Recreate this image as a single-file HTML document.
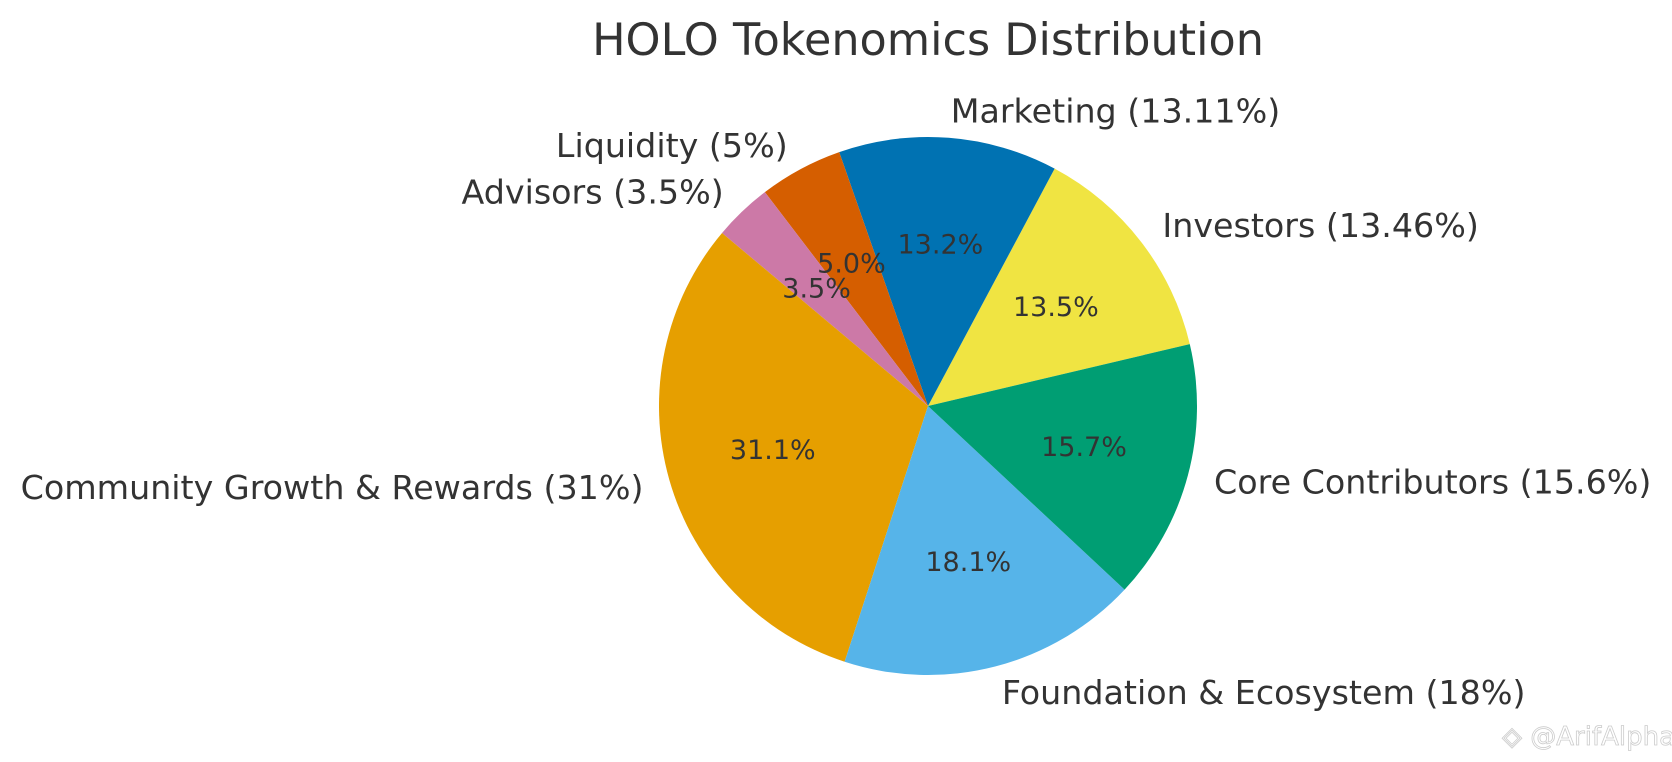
<!DOCTYPE html>
<html><head><meta charset="utf-8"><style>
html,body{margin:0;padding:0;background:#fff;}
svg{display:block;font-family:"DejaVu Sans","Liberation Sans",sans-serif;}
</style></head><body>
<svg id="chart" width="1672" height="762" viewBox="0 0 1672 762" xmlns="http://www.w3.org/2000/svg">
<text x="928" y="55" text-anchor="middle" font-size="44.5" fill="#333">HOLO Tokenomics Distribution</text>
<g id="slices"></g>
<g id="labels"></g>
<text x="1502" y="745" font-size="26" fill="#fff" stroke="#ccc" stroke-width="0.8">◈ @ArifAlpha</text>
</svg>
<script>
const categories = ["Investors","Marketing","Liquidity","Advisors","Community Growth & Rewards","Foundation & Ecosystem","Core Contributors"];
const labelValues = ["13.46","13.11","5","3.5","31","18","15.6"];
const values = [13.46,13.11,5,3.5,31,18,15.6];
const colors = ["#f0e442","#0072b2","#d55e00","#cc79a7","#e69f00","#56b4e9","#009e73"];
const startAngle = 13.3;
const cx = 928, cy = 406, r = 269;
const NS = "http://www.w3.org/2000/svg";
const gS = document.getElementById('slices'), gL = document.getElementById('labels');
const total = values.reduce((a,b)=>a+b,0);
let a = startAngle;
function pt(ang, rad){const t=ang*Math.PI/180;return [cx+rad*Math.cos(t), cy-rad*Math.sin(t)];}
values.forEach((v,i)=>{
  const span = v/total*360, a2 = a+span;
  const p1 = pt(a,r), p2 = pt(a2,r);
  const path = document.createElementNS(NS,'path');
  path.setAttribute('d',`M${cx},${cy} L${p1[0]},${p1[1]} A${r},${r} 0 ${span>180?1:0} 0 ${p2[0]},${p2[1]} Z`);
  path.setAttribute('fill',colors[i]);
  
  
  gS.appendChild(path);
  const mid = (a+a2)/2;
  const lp = pt(mid, r*1.1);
  const lt = document.createElementNS(NS,'text');
  lt.setAttribute('x',lp[0]); lt.setAttribute('y',lp[1]);
  lt.setAttribute('dominant-baseline','central');
  lt.setAttribute('text-anchor', Math.cos(mid*Math.PI/180)>=0?'start':'end');
  lt.setAttribute('font-size','33.3'); lt.setAttribute('fill','#333');
  lt.textContent = categories[i]+' ('+labelValues[i]+'%)';
  
  
  gL.appendChild(lt);
  const pp = pt(mid, r*0.6);
  const pt2 = document.createElementNS(NS,'text');
  pt2.setAttribute('x',pp[0]); pt2.setAttribute('y',pp[1]);
  pt2.setAttribute('dominant-baseline','central');
  pt2.setAttribute('text-anchor','middle');
  pt2.setAttribute('font-size','27'); pt2.setAttribute('fill','#333');
  pt2.textContent = (v/total*100).toFixed(1)+'%';
  
  
  gL.appendChild(pt2);
  a = a2;
});
</script>
</body></html>
